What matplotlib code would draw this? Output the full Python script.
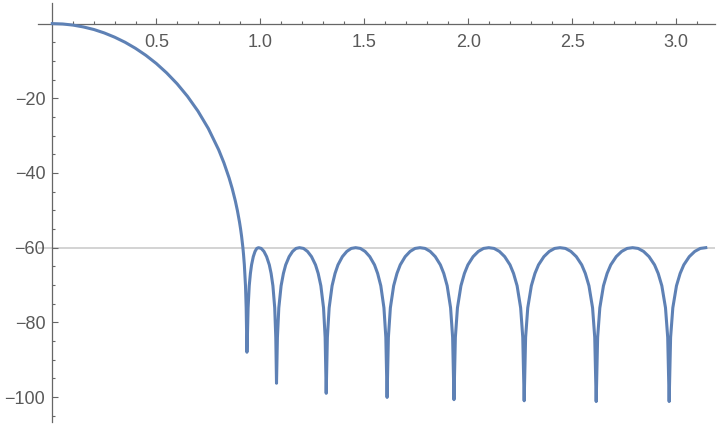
import matplotlib.pyplot as plt
from matplotlib.ticker import FixedLocator, FuncFormatter

plt.rcParams['font.family'] = ['Liberation Sans', 'DejaVu Sans']

# main lobe, frequency [rad] vs magnitude [dB]
mainlobe_w = [0.0, 0.05, 0.1, 0.15, 0.2, 0.25, 0.3, 0.35, 0.4, 0.45, 0.5, 0.55,
              0.6, 0.65, 0.7, 0.75, 0.8, 0.825, 0.85, 0.865, 0.88, 0.89, 0.895,
              0.9, 0.905, 0.91, 0.915, 0.9163, 0.9194, 0.9233, 0.9288, 0.9321,
              0.9342, 0.9357]
mainlobe_db = [0.0, -0.10, -0.40, -0.90, -1.58, -2.50, -3.64, -5.00, -6.62,
               -8.50, -10.68, -13.21, -16.11, -19.48, -23.41, -28.08, -33.81,
               -37.27, -41.33, -44.18, -47.49, -50.09, -51.55, -53.14, -54.92,
               -56.94, -59.32, -60.0, -61.84, -64.61, -70.2, -76.1, -84.0, -88.0]

# side lobes, one row per lobe (ends with the null on the right)
sidelobe_w = [
    0.9379, 0.9413, 0.9468, 0.9524, 0.9580, 0.9663, 0.9747, 0.9830, 0.9914,
    1.0044, 1.0174, 1.0303, 1.0433, 1.0520, 1.0606, 1.0693, 1.0744, 1.0779,
    1.0823, 1.0890, 1.1000, 1.1111, 1.1221, 1.1387, 1.1553, 1.1718, 1.1884,
    1.2077, 1.2269, 1.2462, 1.2654, 1.2783, 1.2911, 1.3040, 1.3117, 1.3168,
    1.3225, 1.3310, 1.3451, 1.3593, 1.3734, 1.3946, 1.4159, 1.4371, 1.4583,
    1.4810, 1.5037, 1.5263, 1.5490, 1.5641, 1.5793, 1.5944, 1.6035, 1.6095,
    1.6158, 1.6253, 1.6411, 1.6570, 1.6728, 1.6965, 1.7202, 1.7440, 1.7677,
    1.7922, 1.8167, 1.8412, 1.8657, 1.8821, 1.8984, 1.9148, 1.9246, 1.9311,
    1.9378, 1.9478, 1.9646, 1.9813, 1.9980, 2.0231, 2.0482, 2.0733, 2.0984,
    2.1239, 2.1495, 2.1750, 2.2005, 2.2175, 2.2346, 2.2516, 2.2618, 2.2686,
    2.2755, 2.2858, 2.3031, 2.3203, 2.3375, 2.3634, 2.3892, 2.4151, 2.4409,
    2.4670, 2.4931, 2.5192, 2.5452, 2.5626, 2.5800, 2.5974, 2.6078, 2.6148,
    2.6218, 2.6323, 2.6498, 2.6673, 2.6848, 2.7111, 2.7373, 2.7636, 2.7898,
    2.8162, 2.8425, 2.8689, 2.8953, 2.9129, 2.9304, 2.9480, 2.9586, 2.9656,
    2.9726, 2.9832, 3.0008, 3.0184, 3.0360, 3.0624, 3.0888, 3.1152, 3.1416,
]
sidelobe_db = [
    -84.0, -76.1, -70.2, -66.9, -64.6, -62.4, -61.0, -60.2, -60.0,
    -60.2, -61.0, -62.4, -64.6, -66.9, -70.2, -76.1, -84.0, -96.3,
    -84.0, -76.1, -70.2, -66.9, -64.6, -62.4, -61.0, -60.2, -60.0,
    -60.2, -61.0, -62.4, -64.6, -66.9, -70.2, -76.1, -84.0, -99.0,
    -84.0, -76.1, -70.2, -66.9, -64.6, -62.4, -61.0, -60.2, -60.0,
    -60.2, -61.0, -62.4, -64.6, -66.9, -70.2, -76.1, -84.0, -100.1,
    -84.0, -76.1, -70.2, -66.9, -64.6, -62.4, -61.0, -60.2, -60.0,
    -60.2, -61.0, -62.4, -64.6, -66.9, -70.2, -76.1, -84.0, -100.7,
    -84.0, -76.1, -70.2, -66.9, -64.6, -62.4, -61.0, -60.2, -60.0,
    -60.2, -61.0, -62.4, -64.6, -66.9, -70.2, -76.1, -84.0, -101.0,
    -84.0, -76.1, -70.2, -66.9, -64.6, -62.4, -61.0, -60.2, -60.0,
    -60.2, -61.0, -62.4, -64.6, -66.9, -70.2, -76.1, -84.0, -101.2,
    -84.0, -76.1, -70.2, -66.9, -64.6, -62.4, -61.0, -60.2, -60.0,
    -60.2, -61.0, -62.4, -64.6, -66.9, -70.2, -76.1, -84.0, -101.2,
    -84.0, -76.1, -70.2, -66.9, -64.6, -62.4, -61.0, -60.2, -60.0,
]

sidelobe_level = -60
x_ticks = [0.5, 1.0, 1.5, 2.0, 2.5, 3.0]
y_ticks = [-20, -40, -60, -80, -100]

axis_col = '#666666'
label_col = '#595959'

fig = plt.figure(figsize=(7.2, 4.24), dpi=100)
ax = fig.add_axes([38.3 / 720, 2.3 / 424, 676.7 / 720, 419.0 / 424])

ax.axhline(sidelobe_level, color='#c8c8c8', lw=1.1, zorder=1)
ax.plot(mainlobe_w + sidelobe_w, mainlobe_db + sidelobe_db,
        color='#5e81b5', lw=2.2, solid_joinstyle='round', zorder=3)

ax.set_xlim(-0.0673, 3.186)
ax.set_ylim(-106.6, 5.6)

for s in ['top', 'right']:
    ax.spines[s].set_visible(False)
ax.spines['left'].set_position(('data', 0))
ax.spines['bottom'].set_position(('data', 0))
for s in ['left', 'bottom']:
    ax.spines[s].set_color(axis_col)
    ax.spines[s].set_linewidth(0.9)

ax.xaxis.set_major_locator(FixedLocator(x_ticks))
ax.xaxis.set_minor_locator(FixedLocator([i / 10 for i in range(1, 32) if i % 5]))
ax.yaxis.set_major_locator(FixedLocator(y_ticks))
ax.yaxis.set_minor_locator(FixedLocator([-i for i in range(5, 106, 5) if i % 20]))
ax.xaxis.set_major_formatter(FuncFormatter(lambda v, p: f"{v:.1f}"))
ax.yaxis.set_major_formatter(FuncFormatter(lambda v, p: f"\u2212{abs(v):.0f}"))

ax.tick_params(which='both', direction='in', color=axis_col, width=0.8,
               labelcolor=label_col, labelsize=13)
ax.tick_params(which='major', length=4)
ax.tick_params(which='minor', length=2.4)
ax.tick_params(axis='x', pad=7.5)
ax.tick_params(axis='y', pad=5)

plt.savefig('out.png', dpi=100)
